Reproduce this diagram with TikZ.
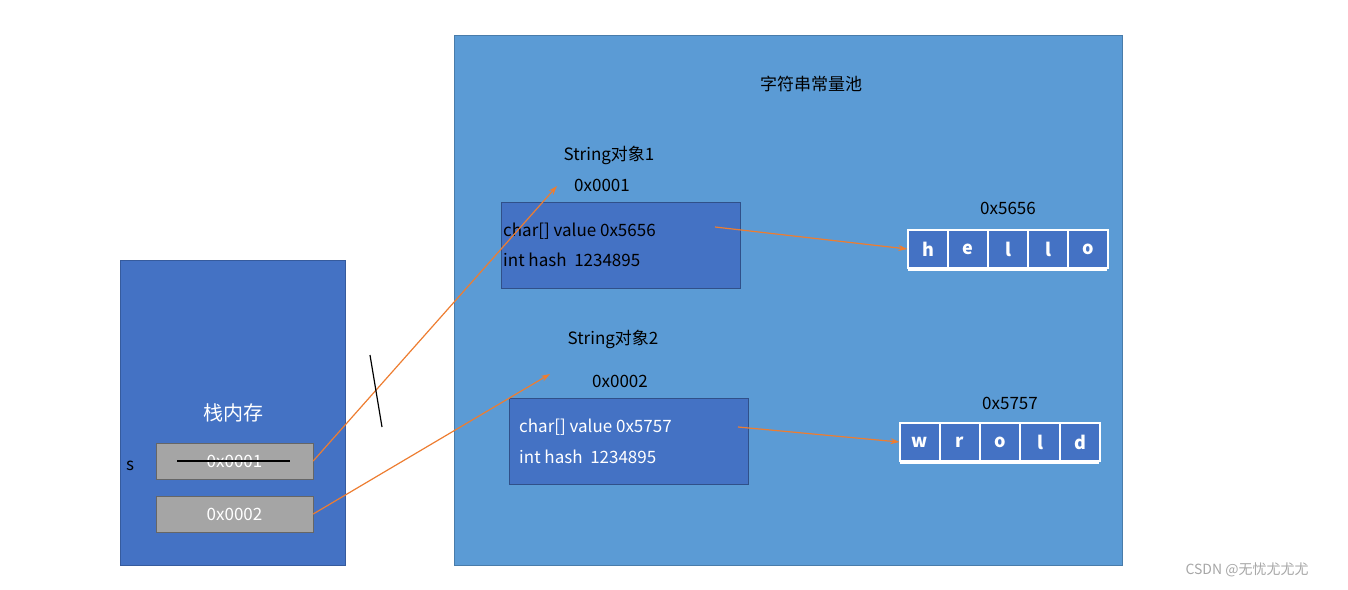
\documentclass[tikz,border=0pt]{standalone}
\usepackage{fontspec}
\setmainfont{Noto Sans CJK SC}
\usetikzlibrary{arrows.meta}
\definecolor{dblue}{HTML}{4472C4}
\definecolor{lblue}{HTML}{5B9BD5}
\definecolor{gbox}{HTML}{A5A5A5}
\definecolor{orng}{HTML}{ED7D31}
\tikzset{
 txt/.style={font=\fontsize{17}{20}\selectfont, inner sep=0pt},
 cell/.style={draw=white, line width=1.2pt, fill=dblue, minimum width=40pt, minimum height=38pt, text=white, font=\bfseries\fontsize{18}{20}\selectfont, inner sep=0pt},
 gray/.style={draw=gray!80!black, fill=gbox, minimum width=157pt, minimum height=36pt, text=white, font=\fontsize{17}{20}\selectfont},
 arr/.style={orng, line width=1.2pt, -{Stealth[length=9pt,width=6pt]}}
}
\begin{document}
\begin{tikzpicture}[x=1pt,y=-1pt]
\useasboundingbox (0,0) rectangle (1348,589);
\draw[fill=dblue, draw=dblue!80!black] (120,260) rectangle (345,565);
\draw[fill=lblue, draw=lblue!80!black] (454,35) rectangle (1122,565);
\node[txt] (pt) at (811,84) {字符串常量池};
\node[txt, text=white, font=\fontsize{20}{24}\selectfont] (st) at (233,413) {栈内存};
\node[gray] (g1) at (234.5,461) {0x0001};
\node[gray] (g2) at (234.5,514) {0x0002};
\coordinate (sa) at (177,461); \coordinate (sb) at (290,461);
\draw[black, line width=1.2pt] (sa) -- (sb);
\node[txt] (s) at (130,466) {s};
\node[txt] (so1) at (609,155) {String对象1};
\node[txt] (a1) at (602,185) {0x0001};
\node[txt] (so2) at (613,339) {String对象2};
\node[txt] (a2) at (620,381) {0x0002};
\draw[fill=dblue, draw=dblue!70!black] (501,202) rectangle (740,288);
\node[txt, anchor=west] (c1) at (503,231) {char[] value 0x5656};
\node[txt, anchor=west] (h1) at (503,260) {int hash\ \ 1234895};
\draw[fill=dblue, draw=dblue!70!black] (509,398) rectangle (748,484);
\node[txt, anchor=west, text=white] (c2) at (519,427) {char[] value 0x5757};
\node[txt, anchor=west, text=white] (h2) at (519,457) {int hash\ \ 1234895};
\foreach \l [count=\i] in {h,e,l,l,o}{
  \node[cell] (hc\i) at (908+40*\i-20,249) {\l};
}
\draw[white, line width=1.5pt] (908,270) -- (1107,270);
\foreach \l [count=\i] in {w,r,o,l,d}{
  \node[cell] (wc\i) at (900+40*\i-20,442) {\l};
}
\draw[white, line width=1.5pt] (900,463) -- (1099,463);
\node[txt] (x1) at (1008,208) {0x5656};
\node[txt] (x2) at (1010,403) {0x5757};
\coordinate (e1) at (557,186); \coordinate (e2) at (550,374);
\draw[arr] (g1.east) -- (e1);
\draw[arr] (g2.east) -- (e2);
\coordinate (p1) at (715,227); \coordinate (p2) at (738,427);
\draw[arr] (p1) -- (hc1.west);
\draw[arr] (p2) -- (wc1.west);
\coordinate (k1) at (370,355); \coordinate (k2) at (382,427);
\draw[line width=1.2pt] (k1) -- (k2);
\node[txt, text=gray!70, font=\fontsize{14}{16}\selectfont] (wm) at (1247,570) {CSDN @无忧尤尤尤};
\end{tikzpicture}
\end{document}
